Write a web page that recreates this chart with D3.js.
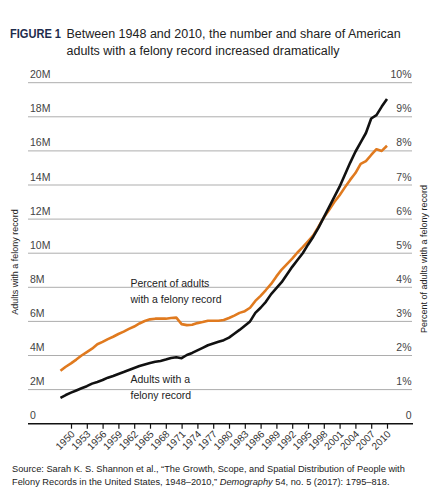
<!DOCTYPE html>
<html>
<head>
<meta charset="utf-8">
<script src="https://cdn.jsdelivr.net/npm/d3@7"></script>
<style>
  body { margin: 0; background: #fff; }
  svg { font-family: "Liberation Sans", Arial, sans-serif; }
</style>
</head>
<body>
<div class="chart"></div>
<script>
var width = 445
var height = 502

var years = [1948, 1949, 1950, 1951, 1952, 1953, 1954, 1955, 1956, 1957, 1958, 1959,
    1960, 1961, 1962, 1963, 1964, 1965, 1966, 1967, 1968, 1969, 1970, 1971, 1972, 1973,
    1974, 1975, 1976, 1977, 1978, 1979, 1980, 1981, 1982, 1983, 1984, 1985, 1986, 1987,
    1988, 1989, 1990, 1991, 1992, 1993, 1994, 1995, 1996, 1997, 1998, 1999, 2000, 2001,
    2002, 2003, 2004, 2005, 2006, 2007, 2008, 2009, 2010]

// adults with a felony record, millions
var adults = [1.52, 1.68, 1.82, 1.95, 2.08, 2.2, 2.35, 2.45, 2.56, 2.7, 2.8, 2.92,
    3.03, 3.15, 3.27, 3.38, 3.47, 3.56, 3.63, 3.68, 3.76, 3.85, 3.9, 3.84, 4.03, 4.15,
    4.3, 4.45, 4.6, 4.7, 4.8, 4.9, 5.05, 5.28, 5.5, 5.75, 6.0, 6.5, 6.8, 7.15,
    7.6, 7.95, 8.3, 8.75, 9.2, 9.6, 10.0, 10.5, 10.97, 11.5, 12.1, 12.7, 13.3, 13.9,
    14.6, 15.3, 15.95, 16.5, 17.05, 17.9, 18.1, 18.6, 19.05]

// percent of adults with a felony record
var percent = [1.55, 1.67, 1.77, 1.88, 2.0, 2.1, 2.2, 2.33, 2.4, 2.48, 2.55, 2.63,
    2.7, 2.78, 2.85, 2.94, 3.01, 3.06, 3.08, 3.08, 3.08, 3.1, 3.11, 2.92, 2.89, 2.9,
    2.95, 2.98, 3.02, 3.02, 3.02, 3.04, 3.1, 3.17, 3.25, 3.3, 3.4, 3.6, 3.75, 3.92,
    4.1, 4.32, 4.52, 4.68, 4.84, 5.02, 5.18, 5.35, 5.52, 5.78, 6.05, 6.27, 6.5, 6.7,
    6.93, 7.15, 7.35, 7.62, 7.7, 7.88, 8.05, 8.0, 8.15]

var leftTicks = [0, 2, 4, 6, 8, 10, 12, 14, 16, 18, 20]
var leftLabels = ['0', '2M', '4M', '6M', '8M', '10M', '12M', '14M', '16M', '18M', '20M']
var rightTicks = [0, 1, 2, 3, 4, 5, 6, 7, 8, 9, 10]
var rightLabels = ['0', '1%', '2%', '3%', '4%', '5%', '6%', '7%', '8%', '9%', '10%']
var yearTicks = d3.range(1950, 2011, 3)

var svg = d3.select('.chart').append('svg')
    .attr('width', width)
    .attr('height', height)

var x = d3.scaleLinear().domain([1950, 2010]).range([71, 387])
var y = d3.scaleLinear().domain([0, 20]).range([423.7, 82.7])
var yPct = d3.scaleLinear().domain([0, 10]).range([423.7, 82.7])

// title
svg.append('text').attr('x', 10).attr('y', 37.5)
    .style('font-size', '12.5px')
    .style('font-weight', 'bold').attr('fill', '#1d2b4c')
    .attr('textLength', 51).attr('lengthAdjust', 'spacingAndGlyphs')
    .text('FIGURE 1')
svg.append('text').attr('x', 66.5).attr('y', 37.5)
    .style('font-size', '12.5px').attr('fill', '#222')
    .text('Between 1948 and 2010, the number and share of American')
svg.append('text').attr('x', 66.5).attr('y', 54.5)
    .style('font-size', '12.5px').attr('fill', '#222')
    .text('adults with a felony record increased dramatically')

// gridlines
svg.append('g').selectAll('line')
    .data(leftTicks.slice(1))
    .enter().append('line')
    .attr('x1', 28).attr('x2', 412)
    .attr('y1', function (d) { return y(d) })
    .attr('y2', function (d) { return y(d) })
    .attr('stroke', '#adadad')
    .attr('stroke-width', 1)

// left tick labels
svg.append('g').selectAll('text')
    .data(leftTicks)
    .enter().append('text')
    .attr('x', 30)
    .attr('y', function (d) { return y(d) - 4.5 })
    .style('font-size', '10.5px')
    .attr('fill', '#444')
    .text(function (d, i) { return leftLabels[i] })

// right tick labels
svg.append('g').selectAll('text')
    .data(rightTicks)
    .enter().append('text')
    .attr('x', 411.5)
    .attr('y', function (d) { return yPct(d) - 4.5 })
    .attr('text-anchor', 'end')
    .style('font-size', '10.5px')
    .attr('fill', '#444')
    .text(function (d, i) { return rightLabels[i] })

// axis titles
svg.append('text')
    .attr('transform', 'translate(18,262) rotate(-90)')
    .attr('text-anchor', 'middle')
    .style('font-size', '9px')
    .attr('fill', '#222')
    .text('Adults with a felony record')

svg.append('text')
    .attr('transform', 'translate(426.5,259) rotate(-90)')
    .attr('text-anchor', 'middle')
    .style('font-size', '9px')
    .attr('fill', '#222')
    .text('Percent of adults with a felony record')

// x axis
var xAxis = d3.axisBottom(x)
    .tickValues(yearTicks)
    .tickSize(5)
    .tickFormat(d3.format('d'))

var gx = svg.append('g')
    .attr('transform', 'translate(0,' + y(0) + ')')
    .call(xAxis)
gx.select('.domain').remove()
gx.selectAll('.tick line').attr('stroke', '#111').attr('stroke-width', 1.2)
gx.selectAll('.tick text')
    .attr('text-anchor', 'end')
    .attr('x', 0).attr('dx', 0).attr('dy', 0).attr('y', 0)
    .attr('transform', 'translate(4,11) rotate(-45)')
    .style('font-size', '10px')
    .style('font-family', '"Liberation Sans", Arial, sans-serif')
    .attr('fill', '#333')

svg.append('line')
    .attr('x1', 28).attr('x2', 413)
    .attr('y1', y(0)).attr('y2', y(0))
    .attr('stroke', '#111')
    .attr('stroke-width', 1.6)

// lines
var adultsLine = d3.line()
    .x(function (d, i) { return x(years[i]) })
    .y(function (d) { return y(d) })

var pctLine = d3.line()
    .x(function (d, i) { return x(years[i]) })
    .y(function (d) { return yPct(d) })

svg.append('path')
    .datum(percent)
    .attr('d', pctLine)
    .attr('fill', 'none')
    .attr('stroke', '#e07a1f')
    .attr('stroke-width', 2.6)
    .attr('stroke-linejoin', 'round')

svg.append('path')
    .datum(adults)
    .attr('d', adultsLine)
    .attr('fill', 'none')
    .attr('stroke', '#111')
    .attr('stroke-width', 2.6)
    .attr('stroke-linejoin', 'round')

// line labels
var lbl = svg.append('g').style('font-size', '10.5px').attr('fill', '#222')
lbl.append('text').attr('x', 130.5).attr('y', 287).text('Percent of adults')
lbl.append('text').attr('x', 130.5).attr('y', 302.5).text('with a felony record')
lbl.append('text').attr('x', 130.5).attr('y', 383).text('Adults with a')
lbl.append('text').attr('x', 130.5).attr('y', 398.5).text('felony record')

// source
var src = svg.append('g').style('font-size', '9.25px').attr('fill', '#222')
src.append('text').attr('x', 12).attr('y', 472)
    .text('Source: Sarah K. S. Shannon et al., \u201cThe Growth, Scope, and Spatial Distribution of People with')
var s2 = src.append('text').attr('x', 12).attr('y', 485)
s2.append('tspan').text('Felony Records in the United States, 1948\u20132010,\u201d ')
s2.append('tspan').style('font-style', 'italic').text('Demography')
s2.append('tspan').text(' 54, no. 5 (2017): 1795\u2013818.')
</script>
</body>
</html>
